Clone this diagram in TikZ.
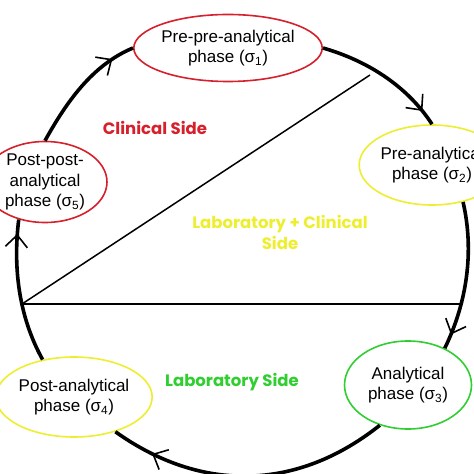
\documentclass[tikz,border=0pt]{standalone}
\usepackage{fontspec}
\setmainfont{Liberation Sans}
\newfontfamily\sidefont{Poppins}
\usetikzlibrary{arrows.meta,shapes.geometric,decorations.markings}
\definecolor{clinred}{RGB}{214,32,44}
\definecolor{labyellow}{RGB}{238,238,48}
\definecolor{labgreen}{RGB}{48,206,48}

\begin{document}
\begin{tikzpicture}[
  x=1pt, y=1pt,
  font=\fontsize{17}{20.7}\selectfont,
  phase/.style={draw, ellipse, line width=1.6pt, fill=white, align=center, inner sep=0pt},
  ring/.style={line width=3.6pt},
  tip/.style={postaction={decorate}, decoration={markings,
    mark=at position #1 with {\arrow{Straight Barb[length=12pt,width=22pt,line width=1.6pt]}}}},
  side/.style={font=\sidefont\bfseries\fontsize{16.5}{21}\selectfont, align=center},
  split/.style={line width=1.5pt}
]
\useasboundingbox (0,0) rectangle (474,474);
\clip (0,0) rectangle (474,474);
\node[phase, draw=clinred, minimum width=143pt, minimum height=67pt] (s1) at (228,426) {Pre-pre-analytical\\phase (σ\textsubscript{1})};
\node[phase, draw=labyellow, minimum width=116pt, minimum height=80pt] (s2) at (432,309) {Pre-analytical\\phase (σ\textsubscript{2})};
\node[phase, draw=labgreen, minimum width=127pt, minimum height=88pt] (s3) at (408,89) {Analytical\\phase (σ\textsubscript{3})};
\node[phase, draw=labyellow, minimum width=138pt, minimum height=80pt] (s4) at (74,77) {Post-analytical\\phase (σ\textsubscript{4})};
\node[phase, draw=clinred, minimum width=124pt, minimum height=81pt] (s5) at (45,292) {Post-post-\\analytical\\phase (σ\textsubscript{5})};

\node[side, text=clinred] (clin) at (155,346) {Clinical Side};
\node[side, text=labyellow] (both) at (280,242) {Laboratory + Clinical\\Side};
\node[side, text=labgreen] (lab) at (232,92) {Laboratory Side};

% the cycle
\draw[ring, tip=0.82] (s5.north) to[out=61, in=202.5, looseness=0.88] (s1.west);
\draw[ring, tip=0.88] (s1.east) to[out=-16, in=123, looseness=0.88] (s2.north);
\draw[ring, tip=0.9] (s2.-50) to[out=-77, in=64, looseness=0.88] (s3.45);
\draw[ring, tip=0.85] (s3.235) to[out=-141.5, in=-35.5, looseness=1.02] (s4.-40);
\draw[ring, tip=0.9] (s4.130) to[out=119, in=263, looseness=0.88] (s5.235);

\coordinate (w) at (22,170);
\coordinate (ne) at (370,399);
\coordinate (e) at (460,170);
\draw[split] (w) -- (ne);
\draw[split] (w) -- (e);
\end{tikzpicture}
\end{document}
